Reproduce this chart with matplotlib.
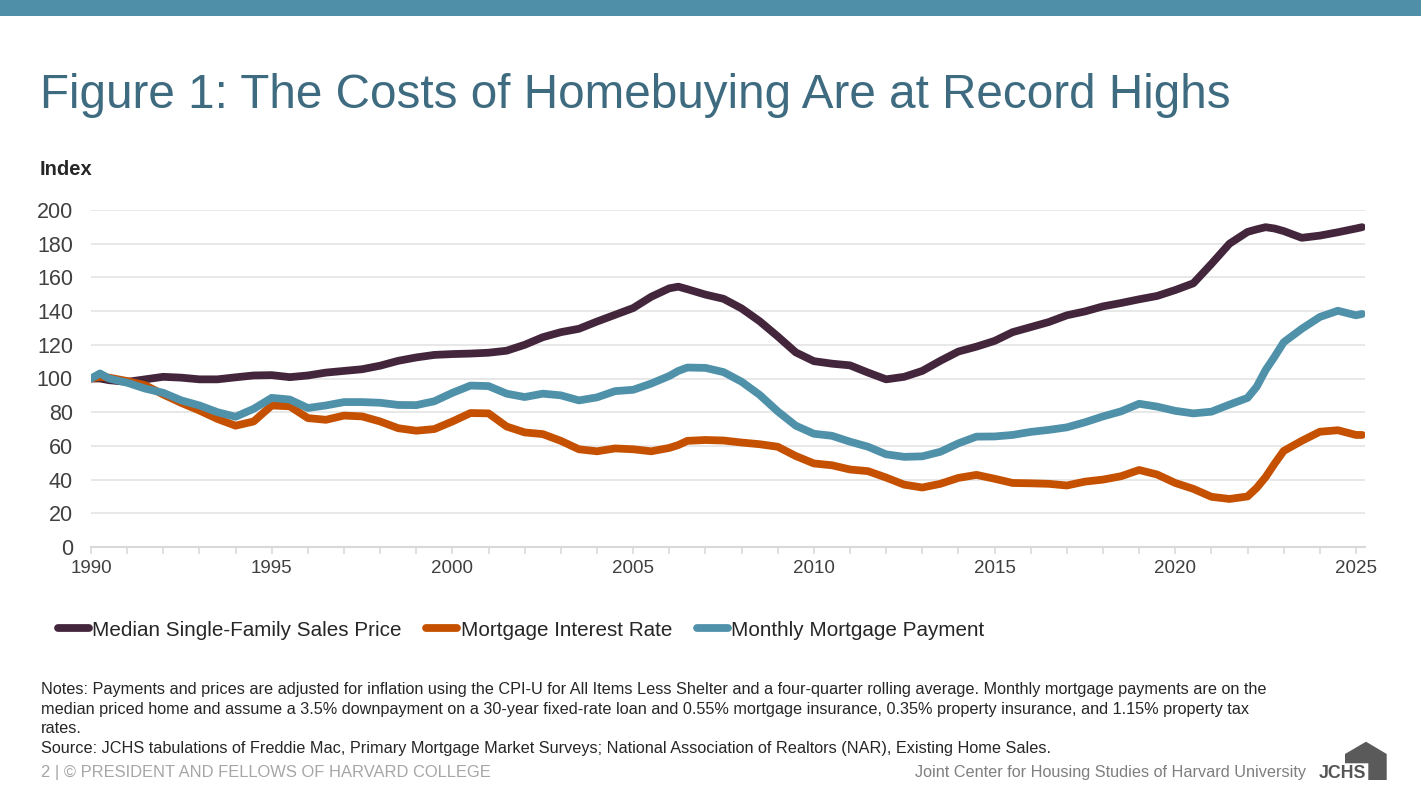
import matplotlib
matplotlib.use("Agg")
import matplotlib.pyplot as plt
from matplotlib.patches import Polygon, Rectangle

plt.rcParams['font.family'] = ['Liberation Sans', 'DejaVu Sans']

# ---------------- data (index, 1990 = 100) ----------------
years = [1990.0, 1990.25, 1990.5, 1991.0, 1991.5, 1992.0, 1992.5, 1993.0, 1993.5,
         1994.0, 1994.5, 1995.0, 1995.5, 1996.0, 1996.5, 1997.0, 1997.5, 1998.0,
         1998.5, 1999.0, 1999.5, 2000.0, 2000.5, 2001.0, 2001.5, 2002.0, 2002.5,
         2003.0, 2003.5, 2004.0, 2004.5, 2005.0, 2005.5, 2006.0, 2006.25, 2006.5,
         2007.0, 2007.5, 2008.0, 2008.5, 2009.0, 2009.5, 2010.0, 2010.5, 2011.0,
         2011.5, 2012.0, 2012.5, 2013.0, 2013.5, 2014.0, 2014.5, 2015.0, 2015.5,
         2016.0, 2016.5, 2017.0, 2017.5, 2018.0, 2018.5, 2019.0, 2019.5, 2020.0,
         2020.5, 2021.0, 2021.5, 2022.0, 2022.25, 2022.5, 2022.75, 2023.0, 2023.5,
         2024.0, 2024.5, 2025.0, 2025.17]

price = [100, 100, 99, 98, 99.5, 101, 100.5, 99.5, 99.5,
         100.7, 101.8, 102, 100.8, 101.8, 103.5, 104.5, 105.5, 107.6,
         110.5, 112.5, 114, 114.5, 114.8, 115.3, 116.5, 120, 124.5,
         127.5, 129.5, 133.8, 137.8, 141.8, 148.5, 153.5, 154.5, 153,
         149.8, 147.3, 141.6, 134, 125, 115.5, 110.3, 108.8, 107.8,
         103.5, 99.5, 101, 104.5, 110.5, 116, 118.9, 122.3, 127.5,
         130.5, 133.5, 137.5, 139.8, 142.8, 144.8, 147, 149, 152.5,
         156.5, 168, 180, 187, 188.5, 189.8, 189, 187.5, 183.5,
         184.8, 186.8, 189, 189.8]

rate = [100, 101, 100.5, 98.5, 96, 90.5, 85.5, 81, 76,
        72, 74.5, 84, 83.5, 76.5, 75.5, 78, 77.5, 74.5,
        70.5, 69, 70, 74.5, 79.5, 79.3, 71.5, 68, 67,
        63, 58, 56.8, 58.5, 58, 56.8, 58.8, 60.5, 63,
        63.5, 63.2, 62, 61, 59.5, 54, 49.6, 48.5, 46,
        45, 41.2, 37, 35.3, 37.5, 41, 42.8, 40.5, 38,
        37.8, 37.5, 36.5, 38.8, 40, 42, 45.7, 43, 38,
        34.5, 29.8, 28.5, 30, 35, 41.5, 49.5, 57, 63,
        68.4, 69.3, 66.5, 66.5]

payment = [100, 103, 100, 97.5, 94, 91.5, 87, 84, 80,
           77.3, 82, 88.5, 87.5, 82.5, 84, 86, 86, 85.6,
           84.3, 84.2, 86.5, 91.5, 95.8, 95.5, 91, 89, 91,
           90, 87, 88.8, 92.5, 93.3, 97, 101.5, 104.5, 106.5,
           106.3, 103.8, 98.1, 90.3, 80.5, 72, 67.2, 66, 62.5,
           59.5, 55, 53.5, 53.8, 56.5, 61.5, 65.5, 65.6, 66.5,
           68.3, 69.5, 71, 74, 77.5, 80.5, 85, 83.3, 80.8,
           79.3, 80.3, 84.5, 88.5, 95, 105, 113, 121.5, 129.5,
           136.5, 140.2, 137.5, 138.3]

series_names = ["Median Single-Family Sales Price", "Mortgage Interest Rate",
                "Monthly Mortgage Payment"]
series_colors = ["#44263C", "#C55000", "#5091AA"]

yticks = [0, 20, 40, 60, 80, 100, 120, 140, 160, 180, 200]
xticks = [1990, 1995, 2000, 2005, 2010, 2015, 2020, 2025]

title = "Figure 1: The Costs of Homebuying Are at Record Highs"
note_lines = [
    "Notes: Payments and prices are adjusted for inflation using the CPI-U for All Items Less Shelter and a four-quarter rolling average. Monthly mortgage payments are on the",
    "median priced home and assume a 3.5% downpayment on a 30-year fixed-rate loan and 0.55% mortgage insurance, 0.35% property insurance, and 1.15% property tax",
    "rates.",
    "Source: JCHS tabulations of Freddie Mac, Primary Mortgage Market Surveys; National Association of Realtors (NAR), Existing Home Sales.",
]

# ---------------- figure ----------------
W, H = 1421, 798
fig = plt.figure(figsize=(W / 100, H / 100), dpi=100)
fig.patch.set_facecolor("white")

def fx(px):
    return px / W

def fy(py):
    return 1 - py / H

# top bar
fig.patches.append(Rectangle((0, fy(16)), 1, 16 / H, transform=fig.transFigure,
                             facecolor="#508FA8", edgecolor="none"))

fig.text(fx(40), fy(95), title, fontsize=34.3, color="#3E6B80",
         ha="left", va="center")

fig.text(fx(40), fy(169.5), "Index", fontsize=14.5, fontweight="bold",
         color="#262626", ha="left", va="center")

ax = fig.add_axes([fx(91), fy(547), fx(1365) - fx(91), fy(210) - fy(547)])
for s in ax.spines.values():
    s.set_visible(False)
ax.spines["bottom"].set_visible(True)
ax.spines["bottom"].set_color("#D9D9D9")
ax.spines["bottom"].set_linewidth(1.5)

for vals, name, col in zip([price, rate, payment], series_names, series_colors):
    ax.plot(years, vals, color=col, lw=5.6, label=name,
            solid_capstyle="round", solid_joinstyle="round")

ax.set_xlim(1990, 2025.25)
ax.set_ylim(0, 200)
ax.set_yticks(yticks)
ax.set_yticklabels([str(v) for v in yticks], fontsize=15.5, color="#404040")
ax.set_xticks(xticks)
ax.set_xticklabels([str(v) for v in xticks], fontsize=13.5, color="#404040")
ax.set_xticks(list(range(1990, 2026)), minor=True)
ax.tick_params(axis="y", length=0, pad=13)
ax.tick_params(axis="x", which="both", length=5, width=1.2, color="#D9D9D9",
               direction="out", pad=4.5)
ax.grid(axis="y", color="#E6E6E6", lw=1.3)
ax.set_axisbelow(True)

leg = fig.legend(loc="center", bbox_to_anchor=(fx(521), fy(630)), ncol=3,
                 frameon=False, fontsize=14.9, handlelength=1.5,
                 handletextpad=0.15, columnspacing=1.2, labelcolor="#262626")
for h in leg.legend_handles:
    h.set_linewidth(5.6)
    h.set_solid_capstyle("round")

for i, line in enumerate(note_lines):
    fig.text(fx(41), fy(689.5 + i * 19.7), line, fontsize=11.7, color="#262626",
             ha="left", va="center")

fig.text(fx(41), fy(773), "2 | \u00a9 PRESIDENT AND FELLOWS OF HARVARD COLLEGE",
         fontsize=11.85, color="#A6A6A6", ha="left", va="center")
fig.text(fx(1306), fy(773), "Joint Center for Housing Studies of Harvard University",
         fontsize=11.7, color="#7F7F7F", ha="right", va="center")
fig.text(fx(1319), fy(773), "JCHS", fontsize=12.8, fontweight="bold",
         color="#555555", ha="left", va="center")

house = [(1345, 754), (1366, 741.7), (1386.7, 754), (1386.7, 780),
         (1368.3, 780), (1368.3, 763.3), (1345, 763.3)]
fig.patches.append(Polygon([(fx(x), fy(y)) for x, y in house], closed=True,
                           transform=fig.transFigure, facecolor="#5A5A5A",
                           edgecolor="none"))

fig.savefig("out.png", dpi=100, facecolor="white")
